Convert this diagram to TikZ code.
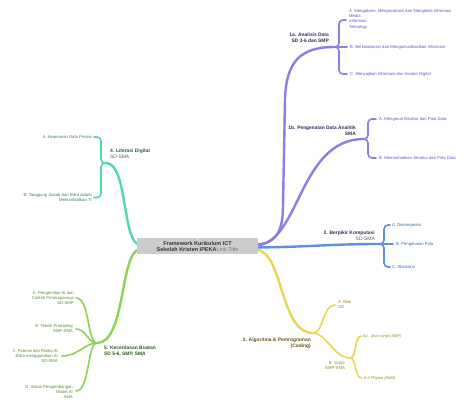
\documentclass[tikz,border=0pt]{standalone}
\usepackage{fontspec}
\setmainfont{Liberation Sans}
\usetikzlibrary{calc}
\definecolor{cpurple}{RGB}{139,127,226}
\definecolor{cblue}{RGB}{94,146,222}
\definecolor{cyellow}{RGB}{233,214,84}
\definecolor{cteal}{RGB}{84,214,178}
\definecolor{cgreen}{RGB}{141,212,86}
\definecolor{boxgray}{RGB}{204,204,204}
\definecolor{rootText}{RGB}{50,50,50}
\definecolor{linkgray}{RGB}{120,120,120}
\definecolor{tnavy}{RGB}{45,45,95}
\definecolor{tgray}{RGB}{90,90,110}
\definecolor{tpurple}{RGB}{95,85,185}
\definecolor{tblue}{RGB}{60,100,175}
\definecolor{tolive}{RGB}{100,85,25}
\definecolor{tyellow}{RGB}{150,130,30}
\definecolor{tteal}{RGB}{30,90,80}
\definecolor{tteal2}{RGB}{40,130,110}
\definecolor{tgreen}{RGB}{50,90,30}
\definecolor{tgreen2}{RGB}{90,140,50}
\pgfdeclarelayer{paper}
\pgfdeclarelayer{bg}
\pgfsetlayers{paper,bg,main}
\tikzset{
  mainlink/.style={line width=2.4pt, line cap=round},
  sublink/.style={line width=1.6pt, line cap=round},
  kid/.style={font=\fontsize{4.2}{5.3}\selectfont, inner sep=0pt},
  kidit/.style={font=\fontsize{3.9}{5}\selectfont\itshape, inner sep=0pt},
  lbl/.style={font=\fontsize{4.9}{6.2}\selectfont\bfseries, inner sep=0pt},
  rootbox/.style={fill=boxgray, minimum width=121pt, minimum height=16pt, inner sep=0pt, align=center, font=\fontsize{5.5}{6.6}\selectfont, text=rootText},
}
\begin{document}
\begin{tikzpicture}[x=1pt,y=-1pt]
\useasboundingbox (0,0) rectangle (474,411);
\begin{pgfonlayer}{paper}
\fill[white] (0,0) rectangle (474,411);
\end{pgfonlayer}

% root
\node[rootbox] (root) at (197.5,246.5) {\textbf{Framework Kurikulum ICT}\\\textbf{Sekolah Kristen IPEKA}{\color{linkgray}Link Title}};
\draw[white!85!gray, line width=0.6pt] ($(root.north)+(0,-2)$) -- ($(root.north)+(0,2)$);
\draw[white!85!gray, line width=0.6pt] ($(root.south)+(0,-2)$) -- ($(root.south)+(0,2)$);

% junctions
\coordinate (j1a) at (334,47);
\coordinate (j1b) at (364,139);
\coordinate (j2) at (380,244);
\coordinate (j3) at (313,333);
\coordinate (jB) at (350,358);
\coordinate (j4) at (106,163);
\coordinate (j5) at (97,343);

% labels
\node[lbl, anchor=east, align=right, text=tnavy] (l1a) at (329,38) {1a. Analisis Data\\SD 3-6 dan SMP};
\node[lbl, anchor=east, align=right, text=tnavy] (l1b) at (356,131) {1b. Pengenalan Data Analitik\\SMA};
\node[lbl, anchor=east, align=right, text=tnavy] (l2) at (375,236) {2. Berpikir Komputasi\\{\mdseries\color{tgray}SD-SMA}};
\node[lbl, anchor=east, align=right, text=tolive] (l3) at (311,343) {3. Algoritma \& Pemrograman\\(Coding)};
\node[lbl, anchor=west, align=left, text=tteal] (l4) at (110,154) {4. Literasi Digital\\{\mdseries\color{tgray}SD-SMA}};
\node[lbl, anchor=west, align=left, text=tgreen] (l5) at (104,351) {5. Kecerdasan Buatan\\SD 5-6, SMP, SMA};

% children 1a
\node[kid, anchor=west, align=left, text=tpurple] (a1) at (349,19) {A. Mengakses, Mengevaluasi dan Mengelola Informasi\\Media\\Informasi\\Teknologi};
\node[kid, anchor=west, text=tpurple] (b1) at (350,47) {B. Berkolaborasi dan Mengomunikasikan Informasi};
\node[kid, anchor=west, text=tpurple] (c1) at (350,74) {C. Menyajikan Informasi dan Konten Digital};
% children 1b
\node[kid, anchor=west, text=tpurple] (a1b) at (379,119) {A. Mengenal Struktur dan Pola Data};
\node[kid, anchor=west, text=tpurple] (b1b) at (379,158) {B. Memanfaatkan Struktur dan Pola Data};
% children 2
\node[kid, anchor=west, text=tblue] (a2) at (392,225) {A. Dekomposisi};
\node[kid, anchor=west, text=tblue] (b2) at (396,244) {B. Pengenalan Pola};
\node[kid, anchor=west, text=tblue] (c2) at (392,267) {C. Abstraksi};
% children 3
\node[kid, anchor=west, align=left, text=tyellow] (a3) at (338,304.5) {A. Blok\\SD};
\node[kid, anchor=east, align=right, text=tyellow] (b3) at (345,365.5) {B. Script\\SMP-SMA};
\node[kidit, anchor=west, text=tyellow] (b31) at (363,336) {B1. Java script (SMP)};
\node[kidit, anchor=west, text=tyellow] (b32) at (364,378) {B.2 Phyton (SMA)};
% children 4
\node[kid, anchor=east, text=tteal2] (a4) at (92,137) {A. Keamanan Data Privasi};
\node[kid, anchor=east, align=right, text=tteal2] (b4) at (92,197.5) {B. Tanggung Jawab dan Etika dalam\\Memanfaatkan TI};
% children 5
\node[kid, anchor=east, align=right, text=tgreen2] (a5) at (74,298) {A. Pengenalan AI dan\\Contoh Penerapannya\\SD-SMP};
\node[kid, anchor=east, align=right, text=tgreen2] (b5) at (73,328.5) {B. Teknik Prompting\\SMP-SMA};
\node[kid, anchor=east, align=right, text=tgreen2] (c5) at (58,356) {C. Potensi dan Risiko AI\\Etika menggunakan AI\\SD-SMA};
\node[kid, anchor=east, align=right, text=tgreen2] (d5) at (73,392) {D. Siklus Pengembangan\\Model AI\\SMA};

\begin{pgfonlayer}{bg}
% main branches
\draw[mainlink,cpurple] ($(root.east)+(-3,-2)$) .. controls (276,244) and (283,232) .. (283,205) -- (285,100) .. controls (286,62) and (300,47) .. (j1a);
\draw[mainlink,cpurple] ($(root.east)+(-3,-1)$) .. controls (300,245) and (298,139) .. (j1b);
\draw[mainlink,cblue] ($(root.east)+(-3,1)$) .. controls (310,247) and (330,244) .. (j2);
\draw[mainlink,cyellow] ($(root.east)+(-3,3)$) .. controls (284,250) and (279,333) .. (j3);
\draw[mainlink,cteal] ($(root.west)+(3,-2)$) .. controls (122,244) and (128,163) .. (j4);
\draw[mainlink,cgreen] ($(root.west)+(3,3)$) .. controls (120,250) and (126,343) .. (j5);

% 1a brace
\draw[sublink,cpurple,rounded corners=4pt] (j1a) -| (339,20) -- ($(a1.west)+(-3,1)$);
\draw[sublink,cpurple] (j1a) -- ($(b1.west)+(-3,0)$);
\draw[sublink,cpurple,rounded corners=4pt] (j1a) -| (339,74) -- ($(c1.west)+(-3,0)$);
% 1b brace
\draw[sublink,cpurple,rounded corners=4pt] (j1b) -| (368,119) -- ($(a1b.west)+(-3,0)$);
\draw[sublink,cpurple,rounded corners=4pt] (j1b) -| (368,158) -- ($(b1b.west)+(-3,0)$);
% 2 brace
\draw[sublink,cblue,rounded corners=4pt] (j2) -| (384,225) -- ($(a2.west)+(-2,0)$);
\draw[sublink,cblue] (j2) -- ($(b2.west)+(-3,0)$);
\draw[sublink,cblue,rounded corners=4pt] (j2) -| (384,267) -- ($(c2.west)+(-2,0)$);
% 3
\draw[sublink,cyellow] (j3) .. controls (324,333) and (322,305) .. ($(a3.west)+(-3,0.5)$);
\draw[sublink,cyellow] (j3) .. controls (326,333) and (334,358) .. (jB);
\draw[sublink,cyellow] (jB) .. controls (357,358) and (354,336) .. ($(b31.west)+(-2,0)$);
\draw[sublink,cyellow] (jB) .. controls (357,358) and (354,378) .. ($(b32.west)+(-2,0)$);
% 4 brace
\draw[sublink,cteal,rounded corners=4pt] (j4) -| (101,137) -- ($(a4.east)+(2,0)$);
\draw[sublink,cteal,rounded corners=4pt] (j4) -| (101,197.5) -- ($(b4.east)+(2,0)$);
% 5
\draw[sublink,cgreen] (j5) .. controls (87,343) and (90,298) .. ($(a5.east)+(2,0)$);
\draw[sublink,cgreen] (j5) .. controls (88,343) and (86,329) .. ($(b5.east)+(3,0.5)$);
\draw[sublink,cgreen] (j5) .. controls (85,343) and (78,356) .. ($(c5.east)+(4,0)$);
\draw[sublink,cgreen] (j5) .. controls (87,343) and (90,391) .. ($(d5.east)+(3,-1)$);
\end{pgfonlayer}
\end{tikzpicture}
\end{document}
